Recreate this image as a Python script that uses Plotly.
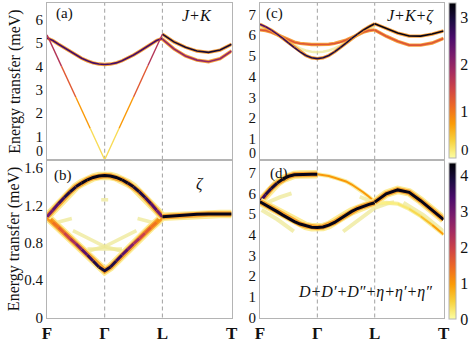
import plotly.graph_objects as go
import plotly.colors as pc

# ---------------- data ----------------
K_POS = [0, 1, 2, 3.2]
K_LAB = ["F", "Γ", "L", "T"]
Q_FGL = [0.0, 0.1, 0.2, 0.3, 0.4, 0.5, 0.6, 0.7, 0.8, 0.9, 1.0,
         1.1, 1.2, 1.3, 1.4, 1.5, 1.6, 1.7, 1.8, 1.9, 2.0]
Q_LT = [2.0, 2.2, 2.4, 2.6, 2.8, 3.0, 3.2]

# (a) J+K
A_BAND = [5.22, 5.11, 4.95, 4.80, 4.64, 4.49, 4.35, 4.24, 4.15, 4.10, 4.08,
          4.10, 4.15, 4.24, 4.35, 4.49, 4.64, 4.80, 4.95, 5.11, 5.20]
A_LT_UP = [5.38, 5.05, 4.82, 4.66, 4.60, 4.70, 4.95]
A_LT_LO = [5.17, 4.75, 4.45, 4.27, 4.20, 4.33, 4.66]
A_AC_Q = [0.0, 0.25, 0.5, 0.75, 1.0, 1.25, 1.5, 1.75, 2.0]
A_AC = [5.35, 4.01, 2.68, 1.34, 0.0, 1.35, 2.69, 4.04, 5.38]
A_AC_I = [1.9, 1.5, 1.0, 0.5, 0.05, 0.5, 1.0, 1.5, 1.9]

# (b) zeta
B_UP = [1.08, 1.15, 1.22, 1.285, 1.345, 1.40, 1.44, 1.475, 1.50, 1.515, 1.52,
        1.515, 1.50, 1.475, 1.44, 1.40, 1.345, 1.285, 1.22, 1.15, 1.08]
B_UP_I = [2.8, 3.1, 3.4, 3.7, 3.9, 4.0, 4.1, 4.2, 4.2, 4.2, 4.2,
          4.2, 4.2, 4.2, 4.1, 4.0, 3.9, 3.7, 3.4, 3.1, 2.8]
B_LO = [1.08, 1.02, 0.965, 0.905, 0.845, 0.79, 0.73, 0.67, 0.605, 0.54, 0.50,
        0.54, 0.605, 0.67, 0.73, 0.79, 0.845, 0.905, 0.965, 1.02, 1.08]
B_LO_I = [1.0, 1.2, 1.5, 1.8, 2.2, 2.6, 3.0, 3.4, 3.7, 3.9, 4.0,
          3.9, 3.7, 3.4, 3.0, 2.6, 2.2, 1.8, 1.5, 1.2, 1.0]
B_LT = [1.08, 1.09, 1.10, 1.105, 1.11, 1.11, 1.11]
B_FAINT = [
    ([0.94, 1.06], [1.26, 1.26]),
    ([0.12, 0.28, 0.43], [1.01, 1.04, 1.06]),
    ([1.57, 1.72, 1.88], [1.06, 1.04, 1.01]),
    ([0.45, 1.0, 1.3], [0.93, 0.76, 0.71]),
    ([1.55, 1.0, 0.7], [0.93, 0.76, 0.71]),
    ([0.7, 1.3], [0.735, 0.735]),
]

# (c) J+K+zeta
C_B1 = [6.52, 6.40, 6.24, 6.05, 5.84, 5.62, 5.40, 5.19, 5.02, 4.91, 4.87,
        4.91, 5.02, 5.19, 5.40, 5.62, 5.84, 6.05, 6.24, 6.40, 6.55]
C_B1_I = [2.5, 2.55, 2.6, 2.65, 2.7, 2.75, 2.8, 2.85, 2.9, 2.9, 2.9,
          2.9, 2.9, 2.9, 2.95, 2.95, 3.0, 3.0, 3.1, 3.1, 3.2]
C_B1_LT = [6.55, 6.32, 6.10, 5.96, 5.95, 6.05, 6.20]
C_B2 = [6.25, 6.22, 6.14, 6.02, 5.88, 5.76, 5.66, 5.60, 5.56, 5.55, 5.55,
        5.55, 5.56, 5.60, 5.66, 5.76, 5.88, 6.02, 6.14, 6.22, 6.25]
C_B2_LT = [6.25, 5.95, 5.70, 5.52, 5.52, 5.62, 5.84]
C_FAINT = [6.40, 6.33, 6.20, 6.03, 5.85, 5.66, 5.50, 5.36, 5.26, 5.20, 5.18,
           5.20, 5.26, 5.36, 5.50, 5.66, 5.85, 6.03, 6.20, 6.33, 6.40]

# (d) D+D'+D''+eta+eta'+eta''
Q_FG = Q_FGL[:11]
Q_GL = Q_FGL[10:]
D_TOP_FG = [5.60, 5.95, 6.25, 6.50, 6.70, 6.83, 6.90, 6.92, 6.93, 6.93, 6.93]
D_TOP_FG_I = [3.4, 3.7, 3.9, 4.1, 4.2, 4.2, 4.2, 4.2, 4.2, 4.2, 4.2]
D_TOP_GL = [6.93, 6.90, 6.84, 6.76, 6.68, 6.58, 6.43, 6.25, 6.06, 5.84, 5.60]
D_MID = [5.60, 5.45, 5.28, 5.12, 4.95, 4.79, 4.64, 4.52, 4.43, 4.37, 4.35,
         4.38, 4.47, 4.60, 4.78, 4.97, 5.13, 5.27, 5.38, 5.47, 5.55]
D_MID_LT = [5.58, 5.98, 6.17, 6.05, 5.65, 5.20, 4.74]
D_LO_LT = [5.50, 5.55, 5.50, 5.25, 4.90, 4.48, 4.02]
D_LO_LT_I = [0.15, 0.15, 0.2, 0.3, 0.5, 0.8, 1.1]
D_FAINT = [
    ([0.03, 0.3, 0.59], [5.2, 4.75, 4.16]),
    ([0.12, 0.35, 0.55], [5.55, 5.82, 6.0]),
    ([1.45, 1.75, 2.0, 2.2, 2.34], [4.16, 4.78, 5.3, 5.5, 5.58]),
    ([1.74, 1.88, 2.0], [5.84, 5.7, 5.55]),
    ([2.5, 2.85, 3.2], [5.55, 4.95, 4.16]),
]

CMAX_C = 3.3
CMAX_D = 4.35
C_TICKS = [0, 1, 2, 3]
D_TICKS = [0, 1, 2, 3, 4]

# ---------------- layout helpers ----------------
W, H = 474, 347
SERIF = "Liberation Serif, Times New Roman, serif"


def fx(p):
    return p / W


def fy(p):
    return 1 - p / H


AX = {"a": ("x", "y"), "b": ("x2", "y2"), "c": ("x3", "y3"), "d": ("x4", "y4")}
fig = go.Figure()


def cmap(v):
    v = min(max(v, 0.0), 1.0)
    return pc.sample_colorscale("Inferno", [1 - v])[0]


def line(panel, xs, ys, color, width):
    xa, ya = AX[panel]
    fig.add_trace(go.Scatter(x=xs, y=ys, mode="lines", xaxis=xa, yaxis=ya,
                             line=dict(color=color, width=width),
                             hoverinfo="skip", showlegend=False))


def core(panel, xs, ys, inten, cmax, width):
    n = len(xs)
    cols = [cmap(((inten[i] + inten[i + 1]) / 2) / cmax) for i in range(n - 1)]
    start = 0
    for i in range(1, n):
        if i == n - 1 or cols[i] != cols[start]:
            line(panel, xs[start:i + 1], ys[start:i + 1], cols[start], width)
            start = i


def branch(panel, xs, ys, inten, cmax, style):
    if isinstance(inten, (int, float)):
        inten = [inten] * len(xs)
    if style == "thick":
        line(panel, xs, ys, "rgb(252,236,150)", 8.5)
        line(panel, xs, ys, "rgb(248,165,45)", 5.5)
        core(panel, xs, ys, inten, cmax, 3.0)
    elif style == "thin":
        line(panel, xs, ys, "rgb(246,160,60)", 3.4)
        core(panel, xs, ys, inten, cmax, 1.6)
    elif style == "soft":
        line(panel, xs, ys, "rgba(245,235,140,0.8)", 4)
        core(panel, xs, ys, inten, cmax, 2.0)
    else:
        core(panel, xs, ys, inten, cmax, 1.4)


def faint(panel, xs, ys, width=3.5):
    line(panel, xs, ys, "rgba(238,232,150,0.75)", width)


# (a)
branch("a", Q_FGL, A_BAND, 2.6, CMAX_C, "thin")
branch("a", Q_LT, A_LT_UP, 3.0, CMAX_C, "thin")
branch("a", Q_LT, A_LT_LO, 2.0, CMAX_C, "thin")
branch("a", A_AC_Q, A_AC, A_AC_I, CMAX_C, "bare")

# (b)
for xs, ys in B_FAINT:
    faint("b", xs, ys, 3.5)
branch("b", Q_FGL, B_LO, B_LO_I, CMAX_D, "thick")
branch("b", Q_FGL, B_UP, B_UP_I, CMAX_D, "thick")
branch("b", Q_LT, B_LT, 4.2, CMAX_D, "thick")

# (c)
faint("c", Q_FGL, C_FAINT, 2.5)
branch("c", Q_FGL, C_B2, 1.3, CMAX_C, "thin")
branch("c", Q_LT, C_B2_LT, 1.3, CMAX_C, "thin")
branch("c", Q_FGL, C_B1, C_B1_I, CMAX_C, "thin")
branch("c", Q_LT, C_B1_LT, 3.2, CMAX_C, "thin")

# (d)
for xs, ys in D_FAINT:
    faint("d", xs, ys, 4)
branch("d", Q_LT, D_LO_LT, D_LO_LT_I, CMAX_D, "soft")
branch("d", Q_GL, D_TOP_GL, 1.0, CMAX_D, "soft")
branch("d", Q_FG, D_TOP_FG, D_TOP_FG_I, CMAX_D, "thick")
branch("d", Q_FGL, D_MID, 4.2, CMAX_D, "thick")
branch("d", Q_LT, D_MID_LT, 4.2, CMAX_D, "thick")

# colorbar carriers
fig.add_trace(go.Scatter(x=[0], y=[-50], mode="markers", xaxis="x3", yaxis="y3",
                         marker=dict(color=[0], coloraxis="coloraxis"),
                         hoverinfo="skip", showlegend=False))
fig.add_trace(go.Scatter(x=[0], y=[-50], mode="markers", xaxis="x4", yaxis="y4",
                         marker=dict(color=[0], coloraxis="coloraxis2"),
                         hoverinfo="skip", showlegend=False))

FRAME = "#b4b4b4"
XL, XR = [43, 232], [261, 449]
YT, YB = [3, 163.5], [163.5, 325]
TICK_SIZE = 15


def xaxis(dom, labels):
    return dict(domain=[fx(dom[0]), fx(dom[1])], range=[0, 3.2], showgrid=False,
                zeroline=False, showline=True, mirror=True, linecolor=FRAME, linewidth=1,
                tickvals=K_POS, ticktext=K_LAB, showticklabels=labels, ticks="",
                tickfont=dict(family=SERIF, size=17, color="#111", weight="bold"))


def yaxis(dom, rng, ticks, fmt):
    return dict(domain=[fy(dom[1]), fy(dom[0])], range=rng, showgrid=False,
                zeroline=False, showline=True, mirror=True, linecolor=FRAME, linewidth=1,
                tickvals=ticks, ticktext=[fmt(t) for t in ticks], ticks="",
                tickfont=dict(family=SERIF, size=TICK_SIZE + 1, color="#111"))


CB_FONT = dict(family=SERIF, size=TICK_SIZE + 1, color="#111")

fig.update_layout(
    width=W, height=H, margin=dict(l=0, r=0, t=0, b=0),
    paper_bgcolor="white", plot_bgcolor="white", showlegend=False,
    xaxis=dict(xaxis(XL, False), anchor="y"),
    yaxis=dict(yaxis(YT, [0, 6.72], [1, 2, 3, 4, 5, 6], lambda t: str(t)), anchor="x",
               tickfont=dict(family=SERIF, size=TICK_SIZE, color="#111")),
    xaxis2=dict(xaxis(XL, True), anchor="y2"),
    yaxis2=dict(yaxis(YB, [0, 1.69], [0, 0.4, 0.8, 1.2, 1.6],
                      lambda t: "0" if t == 0 else f"{t:.1f}"), anchor="x2",
                tickfont=dict(family=SERIF, size=TICK_SIZE, color="#111")),
    xaxis3=dict(xaxis(XR, False), anchor="y3"),
    yaxis3=dict(yaxis(YT, [0, 7.55], [1, 2, 3, 4, 5, 6, 7], lambda t: str(t)), anchor="x3",
                tickfont=dict(family=SERIF, size=TICK_SIZE, color="#111")),
    xaxis4=dict(xaxis(XR, True), anchor="y4"),
    yaxis4=dict(yaxis(YB, [0, 7.63], [0, 1, 2, 3, 4, 5, 6, 7], lambda t: str(t)), anchor="x4",
                tickfont=dict(family=SERIF, size=TICK_SIZE, color="#111")),
    coloraxis=dict(colorscale="Inferno_r", cmin=0, cmax=CMAX_C,
                   colorbar=dict(x=fx(455), xanchor="left", thickness=7,
                                 len=(162 - 3) / H, y=fy((3 + 162) / 2), yanchor="middle",
                                 tickvals=C_TICKS[1:], ticks="", tickfont=CB_FONT,
                                 outlinecolor=FRAME, outlinewidth=1, xpad=0, ypad=0)),
    coloraxis2=dict(colorscale="Inferno_r", cmin=0, cmax=CMAX_D,
                    colorbar=dict(x=fx(455), xanchor="left", thickness=7,
                                  len=(327 - 167) / H, y=fy((167 + 327) / 2), yanchor="middle",
                                  tickvals=D_TICKS, ticks="", tickfont=CB_FONT,
                                  outlinecolor=FRAME, outlinewidth=1, xpad=0, ypad=0)),
)

# dashed high-symmetry lines
shapes = []
for xa, ya in AX.values():
    for k in (1, 2):
        shapes.append(dict(type="line", xref=xa, yref=f"{ya} domain", x0=k, x1=k, y0=0, y1=1,
                           line=dict(color="#a0a0a0", width=1, dash="4px,3px"), layer="below"))
fig.update_layout(shapes=shapes)

ann = []


def text(x, y, s, size=15, italic=False, angle=0, xanchor="center"):
    ann.append(dict(xref="paper", yref="paper", x=fx(x), y=fy(y), text=s, showarrow=False,
                    textangle=angle, xanchor=xanchor, yanchor="middle",
                    font=dict(family=SERIF, size=size, color="#111",
                              style="italic" if italic else "normal")))


text(61, 14, "(a)", 15)
text(197, 16, "J+K", 16, True)
text(59, 180, "(b)", 15)
text(200, 188, "ζ", 16, True)
text(276, 14, "(c)", 15)
text(415, 16, "J+K+ζ", 16, True)
text(281, 178, "(d)", 15)
text(369, 299, "D+D′+D″+η+η′+η″", 16, True)
text(10, 83, "Energy transfer (meV)", 16, angle=-90)
text(10, 244, "Energy transfer (meV)", 16, angle=-90)
# zero labels of the upper panels / upper colorbar sit slightly raised, as in the reference
text(41, 155.5, "0", 14, xanchor="right")
text(259, 157.5, "0", 14, xanchor="right")
text(465, 154, "0", 15, xanchor="left")
fig.update_layout(annotations=ann)

fig.write_html("out.html")
